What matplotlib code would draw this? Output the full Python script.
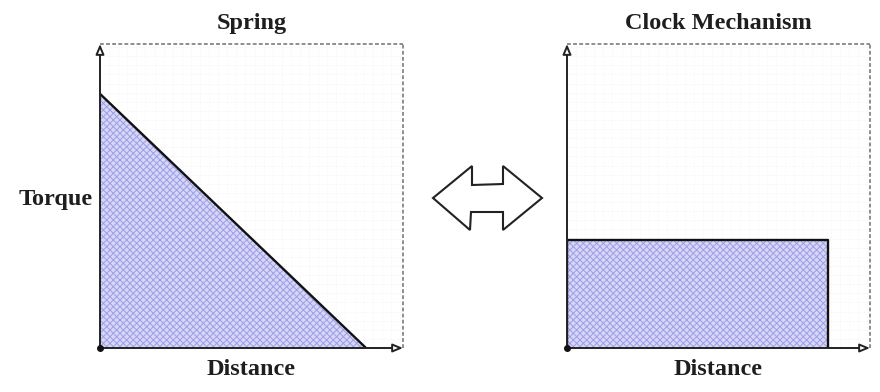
import matplotlib
matplotlib.use("Agg")
import matplotlib.pyplot as plt
from matplotlib.patches import Polygon
import numpy as np

# Data
spring_distance = [0.0, 0.878]
spring_torque = [0.836, 0.0]
clock_distance = [0.0, 0.861]
clock_torque = [0.355, 0.355]
titles = ["Spring", "Clock Mechanism"]
xlabel = "Distance"
ylabel = "Torque"

FONT = ["Liberation Serif", "DejaVu Serif"]
FS = 17.5
FILL = "#d6d6f7"
HATCH = "#9e9ee6"

plt.rcParams["hatch.linewidth"] = 0.7

fig = plt.figure(figsize=(8.8, 3.92), dpi=100)
fig.patch.set_facecolor("white")

ax1 = fig.add_axes([100/880, 1-348/392, 303/880, 304/392])
ax2 = fig.add_axes([567/880, 1-348/392, 303/880, 304/392])


def style(ax, title, show_ylabel):
    ax.set_xlim(0, 1)
    ax.set_ylim(0, 1)
    for s in ax.spines.values():
        s.set_visible(False)
    ax.set_xticks([])
    ax.set_yticks([])
    ax.patch.set_alpha(0)
    # faint dotted background grid
    for v in np.arange(0.03, 1.0, 0.03):
        ax.axhline(v, color="#eeeeee", lw=0.5, ls=":", zorder=0)
        ax.axvline(v, color="#f1f1f1", lw=0.5, ls=":", zorder=0)
    # dashed top and right frame
    ax.plot([0, 1], [1, 1], color="#6f6f6f", lw=1.1, ls=(0, (2.5, 1.5)), clip_on=False, zorder=1)
    ax.plot([1, 1], [0, 1], color="#6f6f6f", lw=1.1, ls=(0, (2.5, 1.5)), clip_on=False, zorder=1)
    # axes arrows
    ax.annotate("", xy=(1.0, 0), xytext=(0, 0), xycoords="axes fraction",
                arrowprops=dict(arrowstyle="-|>,head_length=0.6,head_width=0.25", color="#222222",
                                lw=1.4, shrinkA=0, shrinkB=0, fc="white"), zorder=5)
    ax.annotate("", xy=(0, 1.0), xytext=(0, 0), xycoords="axes fraction",
                arrowprops=dict(arrowstyle="-|>,head_length=0.6,head_width=0.25", color="#222222",
                                lw=1.4, shrinkA=0, shrinkB=0, fc="white"), zorder=5)
    ax.plot([0], [0], "o", color="#111111", ms=4, clip_on=False, zorder=6)
    ax.set_title(title, fontsize=FS, family=FONT, fontweight="bold", pad=11, color="#1e1e1e")
    ax.set_xlabel(xlabel, fontsize=FS, family=FONT, fontweight="bold", labelpad=8, color="#1e1e1e")
    if show_ylabel:
        ax.set_ylabel(ylabel, fontsize=FS, family=FONT, fontweight="bold", rotation=0,
                      ha="right", va="center", labelpad=6, color="#1e1e1e")
        ax.yaxis.set_label_coords(-0.023, 0.49)


style(ax1, titles[0], True)
style(ax2, titles[1], False)

# Spring triangle
ax1.fill_between(spring_distance, spring_torque, 0, facecolor=FILL, edgecolor=HATCH,
                 hatch="xxxxx", lw=0, zorder=2)
ax1.plot(spring_distance, spring_torque, color="#111111", lw=1.7, zorder=4)

# Clock rectangle
ax2.fill_between(clock_distance, clock_torque, 0, facecolor=FILL, edgecolor=HATCH,
                 hatch="xxxxx", lw=0, zorder=2)
ax2.plot([clock_distance[0], clock_distance[0], clock_distance[1], clock_distance[1]],
         [0, clock_torque[0], clock_torque[1], 0], color="#111111", lw=1.7, zorder=4)

# Double-headed outline arrow in the middle (figure pixel coords)
pts_px = [(433, 198), (472, 166), (472, 185), (503, 184), (503, 166), (542, 198),
          (503, 230), (503, 212), (471, 212), (470, 230)]
pts = [(x/880, 1-y/392) for x, y in pts_px]
fig.patches.append(Polygon(pts, closed=True, transform=fig.transFigure, facecolor="white",
                           edgecolor="#222222", lw=1.5, joinstyle="miter"))

fig.savefig("out.png", dpi=100, facecolor="white")
